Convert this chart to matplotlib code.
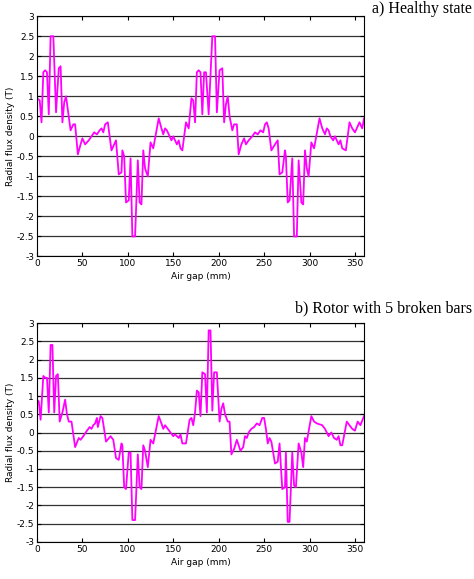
import matplotlib.pyplot as plt
import numpy as np

# healthy state: (air gap mm, radial flux density T)
points_a = [
    (0, 0.95), (3, 0.9), (5, 0.35), (7, 1.6), (9, 1.65), (11, 1.6), (13, 0.55), (15, 2.5), (18, 2.5),
    (21, 0.6), (24, 1.7), (26, 1.75), (28, 0.35), (30, 0.85), (32, 1.0), (35, 0.5), (37, 0.15),
    (40, 0.3), (42, 0.3), (45, -0.45), (48, -0.2), (50, -0.05), (53, -0.2), (57, -0.1), (60, 0.0),
    (63, 0.1), (66, 0.05), (69, 0.15), (71, 0.2), (73, 0.1), (75, 0.3), (78, 0.35), (82, -0.35),
    (85, -0.2), (87, -0.1), (90, -0.95), (93, -0.9), (94, -0.35), (96, -0.5), (98, -1.65),
    (101, -1.6), (103, -0.55), (105, -2.5), (108, -2.5), (111, -0.6), (113, -1.65), (115, -1.7),
    (117, -0.35), (119, -0.8), (122, -1.0), (125, -0.15), (128, -0.3), (134, 0.45), (137, 0.2),
    (139, 0.05), (141, 0.2), (143, 0.15), (146, 0.0), (148, -0.1), (150, 0.0), (152, -0.1),
    (154, -0.2), (156, -0.1), (158, -0.3), (160, -0.35), (164, 0.35), (167, 0.2), (170, 0.95),
    (172, 0.9), (174, 0.35), (176, 1.6), (178, 1.65), (180, 1.6), (182, 0.55), (184, 1.6), (186, 1.6),
    (189, 0.55), (193, 2.5), (196, 2.5), (198, 0.6), (201, 1.65), (204, 1.7), (206, 0.35), (208, 0.8),
    (210, 1.0), (212, 0.5), (215, 0.15), (217, 0.3), (220, 0.3), (222, -0.45), (225, -0.2),
    (228, -0.05), (230, -0.2), (233, -0.1), (237, 0.0), (240, 0.1), (243, 0.05), (246, 0.15),
    (249, 0.1), (251, 0.3), (253, 0.35), (255, 0.2), (258, -0.35), (262, -0.2), (265, -0.1),
    (267, -0.95), (270, -0.9), (273, -0.35), (274, -0.5), (276, -1.65), (278, -1.6), (281, -0.55),
    (283, -2.5), (286, -2.5), (288, -0.6), (291, -1.65), (293, -1.7), (295, -0.35), (297, -0.8),
    (299, -1.0), (302, -0.15), (305, -0.3), (311, 0.45), (314, 0.2), (317, 0.05), (319, 0.2),
    (321, 0.15), (323, 0.0), (326, -0.1), (328, 0.0), (330, -0.1), (332, -0.2), (334, -0.1),
    (336, -0.3), (340, -0.35), (344, 0.35), (347, 0.2), (350, 0.1), (355, 0.35), (358, 0.2), (360, 0.45),
]

# rotor with 5 broken bars
points_b = [
    (0, 0.9), (2, 0.85), (4, 0.35), (7, 1.55), (9, 1.5), (11, 1.5), (13, 0.55), (15, 2.4), (17, 2.4),
    (19, 0.55), (21, 1.55), (23, 1.6), (25, 0.3), (28, 0.55), (31, 0.9), (33, 0.5), (35, 0.3),
    (38, 0.3), (42, -0.4), (46, -0.15), (48, -0.2), (51, -0.1), (55, 0.05), (58, 0.15), (60, 0.1),
    (62, 0.2), (64, 0.25), (66, 0.4), (67, 0.15), (70, 0.45), (72, 0.4), (76, -0.25), (81, -0.1),
    (84, -0.2), (87, -0.7), (90, -0.75), (93, -0.3), (94, -0.35), (96, -1.5), (98, -1.55),
    (101, -0.55), (103, -0.55), (105, -2.4), (108, -2.4), (111, -0.6), (113, -1.5), (115, -1.55),
    (117, -0.35), (119, -0.5), (122, -0.95), (125, -0.2), (128, -0.3), (134, 0.45), (137, 0.25),
    (139, 0.1), (141, 0.2), (144, 0.1), (147, 0.0), (150, -0.1), (152, -0.05), (154, -0.1),
    (156, -0.15), (158, -0.05), (160, -0.3), (164, -0.3), (168, 0.35), (170, 0.4), (172, 0.2),
    (174, 0.55), (176, 1.15), (178, 1.1), (180, 0.45), (182, 1.65), (185, 1.6), (187, 0.55),
    (189, 2.8), (191, 2.8), (193, 0.6), (195, 1.65), (198, 1.65), (201, 0.3), (203, 0.65),
    (205, 0.8), (207, 0.5), (210, 0.3), (212, 0.3), (214, -0.6), (217, -0.45), (220, -0.2),
    (224, -0.5), (227, -0.4), (229, -0.1), (231, -0.15), (233, 0.0), (236, 0.1), (239, 0.15),
    (242, 0.25), (245, 0.2), (248, 0.4), (250, 0.4), (252, 0.1), (254, -0.3), (256, -0.15),
    (258, -0.25), (262, -0.85), (265, -0.8), (267, -0.3), (270, -1.55), (273, -1.5), (274, -0.55),
    (276, -2.45), (278, -2.45), (281, -0.55), (283, -1.45), (285, -1.5), (288, -0.3), (291, -0.55),
    (293, -0.95), (295, -0.15), (297, -0.25), (302, 0.45), (305, 0.3), (308, 0.25), (314, 0.2),
    (317, 0.1), (319, 0.0), (321, -0.1), (324, 0.0), (327, -0.15), (330, -0.2), (332, -0.1),
    (334, -0.35), (336, -0.35), (341, 0.3), (344, 0.2), (347, 0.1), (350, 0.05), (353, 0.3),
    (356, 0.2), (360, 0.45),
]

titles = ['a) Healthy state', 'b) Rotor with 5 broken bars']
yticks = np.arange(-3, 3.01, 0.5)
ytick_labels = ['-3', '-2.5', '-2', '-1.5', '-1', '-0.5', '0', '0.5', '1', '1.5', '2', '2.5', '3']

fig = plt.figure(figsize=(4.74, 5.79), dpi=100)
axes_pos = [[0.078, 0.557, 0.690, 0.415], [0.078, 0.064, 0.690, 0.378]]
title_y = [0.985, 0.468]

for pos, pts, title, ty in zip(axes_pos, [points_a, points_b], titles, title_y):
    xs, ys = zip(*pts)
    ax = fig.add_axes(pos)
    ax.plot(xs, ys, color='#ff00ff', lw=1.3)
    ax.set_xlim(0, 360)
    ax.set_ylim(-3, 3)
    ax.set_yticks(yticks)
    ax.set_yticklabels(ytick_labels)
    ax.set_xticks(np.arange(0, 351, 50))
    ax.grid(axis='y', color='#333333', lw=0.9)
    ax.tick_params(direction='in', top=True, right=True, labelsize=6.5, length=3, pad=2)
    ax.set_xlabel('Air gap (mm)', fontsize=6.5, labelpad=3)
    ax.set_ylabel('Radial flux density (T)', fontsize=6.5, labelpad=1)
    fig.text(0.995, ty, title, ha='right', va='center', fontsize=11.5,
             family='Liberation Serif')

fig.savefig('out.png', dpi=100)
